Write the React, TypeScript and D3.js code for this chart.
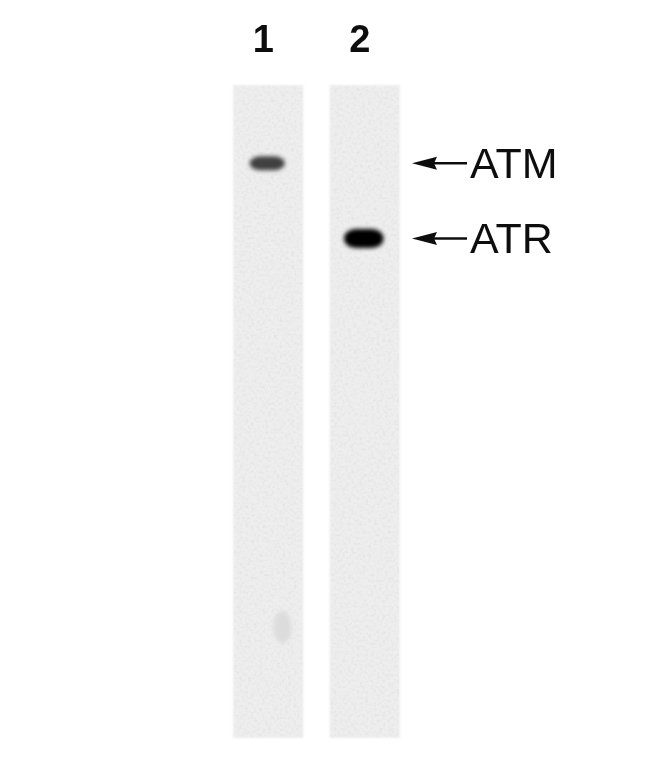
import React from "react";
import * as d3 from "d3";

const lanes = ["1", "2"];
const bandLabels = ["ATM", "ATR"];
const bandLane = ["1", "2"];
// relative migration (0 = top of lane, 1 = bottom)
const bandMigration = [0.12, 0.235];
// relative band intensity
const bandIntensity = [0.72, 1];
const bandWidth = [0.5, 0.56];
const bandThickness = [14, 19];

const W = 650;
const H = 763;

const App: React.FC = () => {
  const x = d3.scaleBand<string>().domain(lanes).range([233, 400]).paddingInner(0.27);
  const y = d3.scaleLinear().domain([0, 1]).range([85, 738]);
  const shade = d3.scaleLinear<string>().domain([0, 1]).range(["#e6e6e6", "#000000"]);
  const bw = x.bandwidth();

  return (
    <svg
      width={W}
      height={H}
      style={{ position: "absolute", left: 0, top: 0, background: "#fff" }}
    >
      <defs>
        <filter id="grain" x="0" y="0" width="100%" height="100%">
          <feTurbulence type="fractalNoise" baseFrequency="0.35" numOctaves={3} seed={7} result="n" />
          <feColorMatrix
            in="n"
            type="matrix"
            values="0 0 0 0 0.6  0 0 0 0 0.6  0 0 0 0 0.6  1.4 0 0 0 -0.62"
            result="g"
          />
          <feGaussianBlur in="g" stdDeviation="0.6" result="gb" />
          <feComposite in="gb" in2="SourceGraphic" operator="in" />
        </filter>
        <filter id="soft" x="-10%" y="-5%" width="120%" height="110%">
          <feGaussianBlur stdDeviation="1.2" />
        </filter>
        <filter id="bandBlur" x="-50%" y="-100%" width="200%" height="300%">
          <feGaussianBlur stdDeviation="2.2" />
        </filter>
        <filter id="textBlur">
          <feGaussianBlur stdDeviation="0.5" />
        </filter>
      </defs>

      {/* lane labels */}
      {lanes.map((l) => (
        <text
          key={l}
          x={(x(l) ?? 0) + bw / 2 - 5}
          y={52}
          textAnchor="middle"
          fontFamily="Liberation Sans, Arial, sans-serif"
          fontWeight="bold"
          fontSize={38}
          fill="#111"
          filter="url(#textBlur)"
        >
          {l}
        </text>
      ))}

      {/* lanes */}
      {lanes.map((l) => (
        <g key={l}>
          <rect
            x={x(l)}
            y={y(0)}
            width={bw}
            height={y(1) - y(0)}
            fill="#eeeeee"
            filter="url(#soft)"
          />
          <rect
            x={(x(l) ?? 0) + 1}
            y={y(0) + 1}
            width={bw - 2}
            height={y(1) - y(0) - 2}
            fill="#000"
            filter="url(#grain)"
            opacity={0.5}
          />
        </g>
      ))}

      {/* faint smudge near the bottom of lane 1 */}
      <ellipse
        cx={(x("1") ?? 0) + bw * 0.7}
        cy={y(0.83)}
        rx={9}
        ry={16}
        fill="#dcdcdc"
        filter="url(#bandBlur)"
      />

      {/* bands */}
      {bandLabels.map((b, i) => {
        const w = bw * bandWidth[i];
        const h = bandThickness[i];
        return (
          <rect
            key={b}
            x={(x(bandLane[i]) ?? 0) + bw / 2 - 1 - w / 2}
            y={y(bandMigration[i]) - h / 2}
            width={w}
            height={h}
            rx={w * 0.3}
            ry={h / 2}
            fill={shade(bandIntensity[i])}
            filter="url(#bandBlur)"
          />
        );
      })}

      {/* arrows and labels */}
      {bandLabels.map((b, i) => {
        const yy = y(bandMigration[i]);
        const tip = 412;
        return (
          <g key={b} filter="url(#textBlur)">
            <path
              d={`M${tip},${yy} L${tip + 25},${yy - 6.5} L${tip + 22},${yy} L${tip + 25},${yy + 6.5} Z`}
              fill="#111"
            />
            <line
              x1={tip + 20}
              x2={467}
              y1={yy}
              y2={yy}
              stroke="#111"
              strokeWidth={2.5}
            />
            <text
              x={470}
              y={yy + 15}
              fontFamily="Liberation Sans, Arial, sans-serif"
              fontSize={43}
              fill="#111"
            >
              {b}
            </text>
          </g>
        );
      })}
    </svg>
  );
};

export default App;
